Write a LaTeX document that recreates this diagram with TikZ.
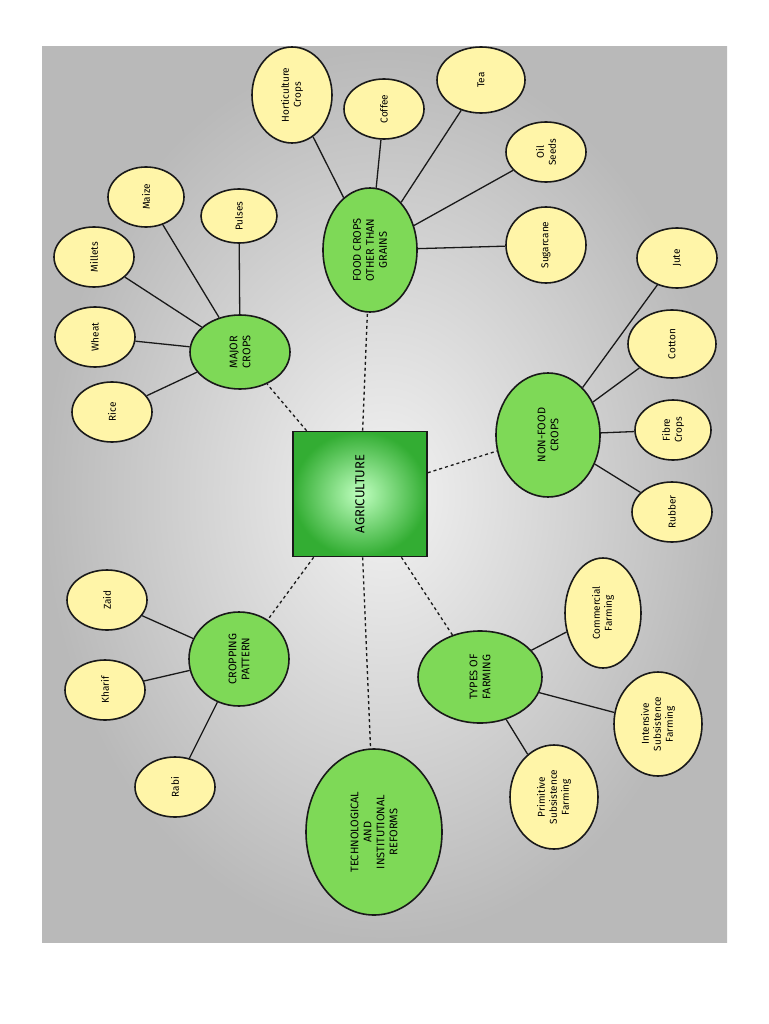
\documentclass[tikz,border=0pt]{standalone}
\usepackage{fontspec}
\setmainfont{Fira Sans}
\usetikzlibrary{shapes.geometric}
\definecolor{gfill}{HTML}{7ED957}
\definecolor{yfill}{HTML}{FFF5A8}
\begin{document}
\begin{tikzpicture}[x=1pt,y=-1pt,
  base/.style={ellipse,draw=black!90,line width=1.6pt,rotate=90,inner sep=0pt,align=center,font=\fontsize{11}{13}\selectfont},
  gnode/.style={base,fill=gfill},
  ynode/.style={base,fill=yfill,font=\fontsize{10}{12}\selectfont},
  link/.style={line width=1.3pt,black!90},
  dlink/.style={line width=1.3pt,black!90,dashed}]
\useasboundingbox (0,0) rectangle (768,1024);
\shade[inner color=gray!10,outer color=gray!55] (42,47) rectangle (727,942);
\node[rectangle,draw=black!90,line width=1.6pt,inner color=green!25,outer color=green!60!black!80,minimum width=125pt,minimum height=134pt,rotate=90,font=\fontsize{13}{15}\selectfont] (ag) at (360,494) {AGRICULTURE};
\newcommand\gn[5]{\node[gnode,minimum width=#4pt,minimum height=#3pt] (#1) at (#2) {#5};}
\newcommand\yn[5]{\node[ynode,minimum width=#4pt,minimum height=#3pt] (#1) at (#2) {#5};}
\gn{mc}{240,352}{100}{74}{MAJOR\\CROPS}
\gn{fc}{370,250}{94}{124}{FOOD CROPS\\OTHER THAN\\GRAINS}
\gn{nf}{548,435}{104}{124}{NON-FOOD\\CROPS}
\gn{cp}{239,659}{100}{94}{CROPPING\\PATTERN}
\gn{tf}{480,677}{124}{92}{TYPES OF\\FARMING}
\gn{tr}{374,832}{136}{166}{TECHNOLOGICAL\\AND\\INSTITUTIONAL\\REFORMS}
\yn{rice}{112,412}{80}{60}{Rice}
\yn{wheat}{95,337}{80}{60}{Wheat}
\yn{mil}{94,257}{80}{60}{Millets}
\yn{maize}{146,197}{76}{60}{Maize}
\yn{pul}{239,216}{76}{54}{Pulses}
\yn{hort}{292,95}{80}{96}{Horticulture\\Crops}
\yn{cof}{384,109}{80}{60}{Coffee}
\yn{tea}{481,80}{88}{66}{Tea}
\yn{oil}{546,152}{80}{60}{Oil\\Seeds}
\yn{sug}{546,245}{80}{76}{Sugarcane}
\yn{jute}{677,258}{80}{60}{Jute}
\yn{cot}{672,344}{88}{68}{Cotton}
\yn{fib}{673,430}{76}{60}{Fibre\\Crops}
\yn{rub}{672,512}{80}{60}{Rubber}
\yn{zaid}{107,600}{80}{60}{Zaid}
\yn{kha}{105,690}{80}{60}{Kharif}
\yn{rabi}{175,787}{80}{60}{Rabi}
\yn{com}{603,613}{76}{110}{Commercial\\Farming}
\yn{int}{658,724}{88}{104}{Intensive\\Subsistence\\Farming}
\yn{pri}{554,797}{88}{104}{Primitive\\Subsistence\\Farming}
\foreach \g in {mc,fc,nf,cp,tf,tr} \draw[dlink] (ag) -- (\g);
\foreach \y in {rice,wheat,mil,maize,pul} \draw[link] (mc) -- (\y);
\foreach \y in {hort,cof,tea,oil,sug} \draw[link] (fc) -- (\y);
\foreach \y in {jute,cot,fib,rub} \draw[link] (nf) -- (\y);
\foreach \y in {zaid,kha,rabi} \draw[link] (cp) -- (\y);
\foreach \y in {com,int,pri} \draw[link] (tf) -- (\y);
\end{tikzpicture}
\end{document}
